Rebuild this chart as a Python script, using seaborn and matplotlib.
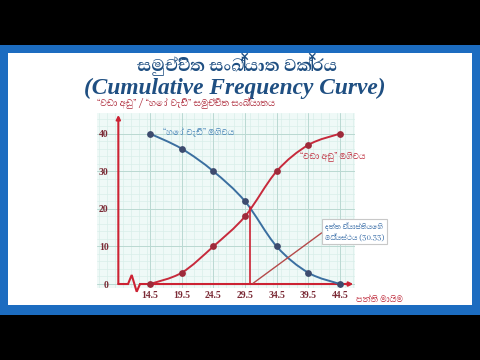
import numpy as np
import pandas as pd
import matplotlib
matplotlib.use("Agg")
import matplotlib.pyplot as plt
import seaborn as sns
from matplotlib.path import Path
from matplotlib.patches import PathPatch, Rectangle
from matplotlib import font_manager

# ---------------- data ----------------
class_boundaries = [14.5, 19.5, 24.5, 29.5, 34.5, 39.5, 44.5]
less_than_cf = [0, 3, 10, 18, 30, 37, 40]
more_than_cf = [40, 36, 30, 22, 10, 3, 0]
y_ticks = [0, 10, 20, 30, 40]
x_tick_labels = ["14.5", "19.5", "24.5", "29.5", "34.5", "39.5", "44.5"]
median_value = 30.33
median_height = 20.4

title_si = "සමුච්චිත සංඛ්‍යාත වක්‍රය"
title_en = "(Cumulative Frequency Curve)"
ylabel_text = "“වඩා අඩු” / “හෝ වැඩි” සමුච්චිත සංඛ්‍යාතය"
xlabel_text = "පන්ති මායිම"
less_label = "“වඩා අඩු” ඔගිවය"
more_label = "“හෝ වැඩි” ඔගිවය"
median_note = "දත්ත ව්‍යාප්තියෙහි\nමධ්‍යස්ථය (30.33)"

installed = {fe.name for fe in font_manager.fontManager.ttflist}
si_family = [f for f in ["Abhaya Libre", "FreeSerif", "DejaVu Sans"] if f in installed] or ["DejaVu Sans"]

sns.set_style("white")
plt.rcParams["font.family"] = si_family

RED = "#cc2233"
RED_LINE = "#c72a3c"
RED_MK = "#9e2a3a"
BLUE_LINE = "#3b6fa0"
BLUE_MK = "#3d4b6e"
TICK_TXT = "#7b2a35"
TITLE_C = "#1f4f82"

fig = plt.figure(figsize=(4.8, 3.6), dpi=100, facecolor="black")
fig.patches.append(Rectangle((0, 1 - 315/360), 1, 270/360, transform=fig.transFigure,
                             facecolor="#1c6cc0", edgecolor="none", zorder=-10))
fig.patches.append(Rectangle((8/480, 1 - 305/360), 464/480, 252/360, transform=fig.transFigure,
                             facecolor="white", edgecolor="none", zorder=-9))

ax = fig.add_axes([97/480, 72/360, 258/480, 175/360])
ax.set_zorder(1)
ax.set_facecolor("#eff9f7")
ax.set_xlim(6.13, 46.87)
ax.set_ylim(-1.06, 45.5)

# graph-paper grid
for gx in np.arange(6.5, 47, 1.25):
    ax.axvline(gx, color="#d9eeea", lw=0.5, zorder=0)
for gy in np.arange(-0, 46, 2):
    ax.axhline(gy, color="#d9eeea", lw=0.5, zorder=0)
for gx in class_boundaries:
    ax.axvline(gx, color="#bad9d2", lw=0.7, zorder=0)
for gy in y_ticks:
    ax.axhline(gy, color="#bad9d2", lw=0.7, zorder=0)

for s in ax.spines.values():
    s.set_visible(False)
ax.spines["left"].set_position(("data", 9.5))
ax.spines["bottom"].set_position(("data", 0))

ax.set_xticks(class_boundaries)
ax.set_xticklabels(x_tick_labels)
ax.set_yticks(y_ticks)
ax.tick_params(axis="both", direction="inout", length=8, width=1.2, color=RED,
               labelcolor=TICK_TXT, labelsize=7)
ax.tick_params(axis="x", pad=1)
ax.tick_params(axis="y", pad=3)
for lab in ax.get_xticklabels() + ax.get_yticklabels():
    lab.set_family(["Liberation Serif", "DejaVu Serif"])
    lab.set_fontweight("bold")

# axes lines (y axis, x axis with zig-zag break)
ax.annotate("", xy=(9.5, 45.0), xytext=(9.5, 0), annotation_clip=False,
            arrowprops=dict(arrowstyle="-|>", color=RED, lw=1.5, mutation_scale=6, shrinkA=0, shrinkB=0))
ax.plot([9.5, 11.03, 11.61, 12.4, 12.92], [0, 0, 2.4, -2.05, 0], color=RED, lw=1.5,
        clip_on=False, solid_joinstyle="miter", zorder=3)
ax.annotate("", xy=(46.6, 0), xytext=(12.92, 0), annotation_clip=False,
            arrowprops=dict(arrowstyle="-|>", color=RED, lw=1.5, mutation_scale=6, shrinkA=0, shrinkB=0))


def smooth_path(xs, ys):
    p = np.column_stack([xs, ys]).astype(float)
    verts = [p[0]]
    codes = [Path.MOVETO]
    n = len(p)
    for i in range(n - 1):
        p0 = p[i - 1] if i > 0 else p[i]
        p1 = p[i]
        p2 = p[i + 1]
        p3 = p[i + 2] if i + 2 < n else p[i + 1]
        verts += [p1 + (p2 - p0) / 6, p2 - (p3 - p1) / 6, p2]
        codes += [Path.CURVE4] * 3
    return Path(verts, codes)


ax.add_patch(PathPatch(smooth_path(class_boundaries, more_than_cf), facecolor="none",
                       edgecolor=BLUE_LINE, lw=1.4, zorder=4))
ax.add_patch(PathPatch(smooth_path(class_boundaries, less_than_cf), facecolor="none",
                       edgecolor=RED_LINE, lw=1.4, zorder=4))

df = pd.DataFrame({"x": class_boundaries, "less": less_than_cf, "more": more_than_cf})
sns.scatterplot(data=df, x="x", y="more", ax=ax, color=BLUE_MK, s=24, edgecolor=BLUE_MK,
                linewidth=0, zorder=5, clip_on=False)
sns.scatterplot(data=df, x="x", y="less", ax=ax, color=RED_MK, s=24, edgecolor=RED_MK,
                linewidth=0, zorder=5, clip_on=False)
ax.set_xlabel("")
ax.set_ylabel("")

# median line + note
ax.plot([median_value, median_value], [0, median_height], color=RED, lw=1.2, zorder=4)
ax.plot([median_value + 0.45, 41.6], [0.2, 13.6], color="#b54a4a", lw=1.0, zorder=4, clip_on=False)
ax.text(42.13, 13.9, median_note, ha="left", va="center", fontsize=6.4, color="#3a6ea8",
        linespacing=1.2, zorder=6, clip_on=False,
        bbox=dict(boxstyle="square,pad=0.35", facecolor="white", edgecolor="#c8c8c8", lw=0.8))

ax.text(16.55, 40.2, more_label, ha="left", va="center", fontsize=7.8, color="#4a86b8", zorder=6)
ax.text(38.2, 33.8, less_label, ha="left", va="center", fontsize=7.8, color="#c03040", zorder=6)

# titles / labels
fig.text(237/480, 1 - 64/360, title_si, ha="center", va="center", fontsize=16,
         color=TITLE_C, fontweight="bold")
fig.text(235/480, 1 - 88/360, title_en, ha="center", va="center", fontsize=16.8,
         color=TITLE_C, fontweight="bold", style="italic",
         family=["Liberation Serif", "DejaVu Serif"])
fig.text(97/480, 1 - 103/360, ylabel_text, ha="left", va="center", fontsize=8.4, color="#b03040")
fig.text(356/480, 1 - 300/360, xlabel_text, ha="left", va="center", fontsize=7.8, color="#c03040")

fig.savefig("out.png", dpi=100, facecolor=fig.get_facecolor())
